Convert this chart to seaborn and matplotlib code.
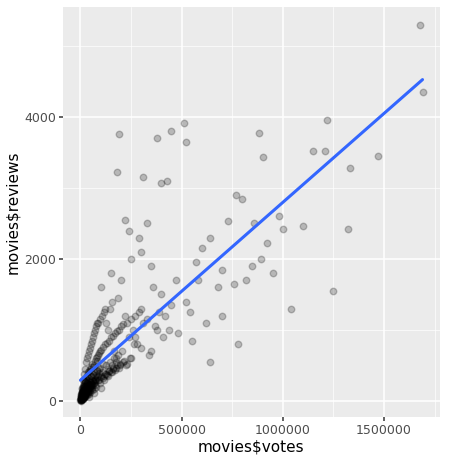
import matplotlib
matplotlib.use("Agg")
import matplotlib.pyplot as plt
import seaborn as sns
import pandas as pd
from matplotlib.ticker import MultipleLocator

# values (outliers + a sample of the dense cluster)
votes = [1680000, 1690000, 1220000, 1470000, 1330000, 1150000, 1210000, 880000, 900000,
         510000, 520000, 450000, 380000, 190000, 430000, 400000, 310000, 180000, 1320000,
         1250000, 1040000, 1100000, 980000, 1000000, 860000, 800000, 770000, 730000, 640000,
         600000, 570000, 890000, 920000, 950000, 700000, 780000, 620000, 640000, 520000,
         470000, 330000, 290000, 300000, 220000, 240000, 250000, 350000, 360000, 420000,
         480000, 550000, 700000, 820000, 850000, 760000, 680000, 580000, 540000, 450000,
         400000, 380000, 300000, 270000, 200000, 150000, 100000, 120000, 80000,
         5000, 8000, 12000, 15000, 20000, 25000, 30000, 35000, 40000, 45000, 50000, 55000,
         60000, 65000, 70000, 75000, 80000, 85000, 90000, 95000, 100000, 110000, 120000,
         130000, 140000, 150000, 160000, 170000, 180000, 190000, 200000, 210000, 230000,
         250000, 270000, 290000, 2000, 4000, 6000, 10000, 14000, 18000, 22000, 28000, 32000,
         38000, 42000, 48000, 52000, 58000, 62000, 68000, 72000, 78000, 88000, 98000, 105000,
         115000, 125000, 135000, 145000, 155000, 165000, 175000, 185000, 195000, 220000,
         240000, 260000, 280000, 310000, 330000, 350000, 370000, 390000, 410000, 440000,
         1000, 3000, 7000, 9000, 11000, 13000, 16000, 19000, 24000, 27000, 34000, 44000,
         54000, 64000, 74000, 84000, 94000, 108000, 118000, 128000, 138000, 148000, 158000,
         168000, 178000, 188000, 205000, 225000, 245000, 265000, 300000, 340000,
         500, 1500, 2500, 3500, 6500, 8500, 12500, 17000, 21000, 26000, 31000, 36000, 41000,
         46000, 51000, 57000, 63000, 69000, 76000, 83000, 92000, 102000, 112000, 122000,
         132000, 142000, 152000, 162000, 172000, 182000, 192000, 212000, 232000, 252000]
reviews = [5300, 4350, 3960, 3450, 3280, 3520, 3520, 3780, 3430,
           3920, 3650, 3800, 3700, 3760, 3100, 3070, 3150, 3220, 2420,
           1550, 1300, 2460, 2600, 2420, 2500, 2850, 2900, 2530, 2300,
           2150, 1950, 2000, 2230, 1800, 1850, 800, 1100, 550, 1400,
           1700, 2500, 2300, 2100, 2550, 2400, 2000, 1900, 1600, 1200,
           950, 850, 1200, 1700, 1900, 1650, 1600, 1700, 1250, 1350,
           1500, 1000, 1300, 900, 1700, 1800, 1600, 1300, 1100,
           60, 120, 150, 200, 250, 280, 320, 350, 400, 420, 450, 480,
           520, 500, 560, 600, 620, 650, 680, 700, 720, 760, 800,
           820, 850, 900, 920, 950, 980, 1000, 1050, 1080, 1100,
           1150, 1200, 1250, 30, 80, 100, 180, 300, 380, 450, 550, 600,
           650, 700, 750, 800, 850, 900, 950, 1000, 1050, 1100, 1150, 1200,
           1250, 1100, 1000, 1300, 1400, 700, 600, 1450, 500, 1200,
           900, 1000, 800, 1100, 1150, 700, 1050, 1250, 900, 1000,
           20, 40, 90, 110, 130, 170, 200, 230, 270, 300, 250, 320,
           350, 380, 300, 420, 450, 400, 350, 500, 450, 550,
           500, 600, 550, 650, 700, 500, 600, 800, 750, 650,
           10, 30, 50, 70, 90, 120, 160, 190, 210, 180, 150, 220, 240,
           200, 260, 240, 280, 250, 300, 330, 290, 350, 320, 380,
           360, 420, 400, 450, 430, 500, 470, 550, 520, 600]

# the dense low corner of the cloud
votes_low = [3000, 9000, 15000, 21000, 27000, 33000, 39000, 45000, 51000, 57000,
             4000, 11000, 18000, 25000, 32000, 41000, 49000, 58000, 67000, 76000,
             6000, 13000, 20000, 29000, 37000, 47000, 56000, 66000, 79000, 91000,
             2000, 7000, 16000, 23000, 35000, 43000, 53000, 62000, 72000, 86000,
             8000, 14000, 26000, 31000, 40000, 55000, 69000, 82000, 97000, 113000,
             1000, 5000, 10000, 17000, 24000, 30000, 36000, 42000, 60000, 71000,
             12000, 19000, 28000, 38000, 46000, 54000, 64000, 74000, 88000, 104000,
             126000, 143000, 161000, 95000, 118000, 137000, 156000, 174000, 198000, 215000,
             1500, 3500, 6500, 9500, 13500, 22000, 34000, 48000, 61000, 80000,
             2500, 4500, 8500, 11500, 15500, 19500, 23500, 44000, 65000, 100000]
reviews_low = [15, 40, 70, 90, 110, 140, 160, 180, 210, 230,
               5, 25, 50, 60, 80, 100, 130, 150, 170, 200,
               60, 110, 150, 190, 220, 260, 300, 330, 360, 390,
               20, 35, 80, 120, 170, 200, 240, 280, 310, 350,
               90, 140, 200, 250, 300, 350, 400, 430, 470, 520,
               10, 20, 30, 55, 75, 95, 115, 135, 180, 220,
               30, 60, 90, 130, 160, 190, 230, 260, 290, 330,
               380, 420, 470, 250, 300, 350, 400, 460, 520, 560,
               50, 100, 130, 170, 210, 280, 350, 420, 480, 560,
               10, 15, 25, 40, 45, 70, 90, 60, 110, 180]

df = pd.DataFrame({"votes": votes + votes_low, "reviews": reviews + reviews_low})

sns.set_theme(style="darkgrid", rc={"axes.facecolor": "#EBEBEB", "grid.color": "white"})
fig, ax = plt.subplots(figsize=(4.51, 4.61), dpi=100)
sns.regplot(data=df, x="votes", y="reviews", ax=ax, ci=None,
            scatter_kws={"color": "black", "alpha": 0.22, "s": 22, "edgecolor": "black"},
            line_kws={"color": "#3366FF", "linewidth": 2.2})

ax.set_xlim(-85000, 1775000)
ax.set_ylim(-230, 5550)
ax.xaxis.set_major_locator(MultipleLocator(500000))
ax.yaxis.set_major_locator(MultipleLocator(2000))
ax.xaxis.set_minor_locator(MultipleLocator(250000))
ax.yaxis.set_minor_locator(MultipleLocator(1000))
ax.grid(which="major", color="white", linewidth=1.1)
ax.grid(which="minor", color="white", linewidth=0.5)
ax.ticklabel_format(style="plain")
ax.tick_params(labelsize=9, colors="#4D4D4D", length=3, pad=2, left=True, bottom=True)
ax.set_xlabel("movies$votes", fontsize=11, color="black", labelpad=2)
ax.set_ylabel("movies$reviews", fontsize=11, color="black", labelpad=3)
for s in ax.spines.values():
    s.set_visible(False)
fig.subplots_adjust(left=0.14, right=0.975, top=0.985, bottom=0.095)
fig.savefig("out.png", dpi=100)
